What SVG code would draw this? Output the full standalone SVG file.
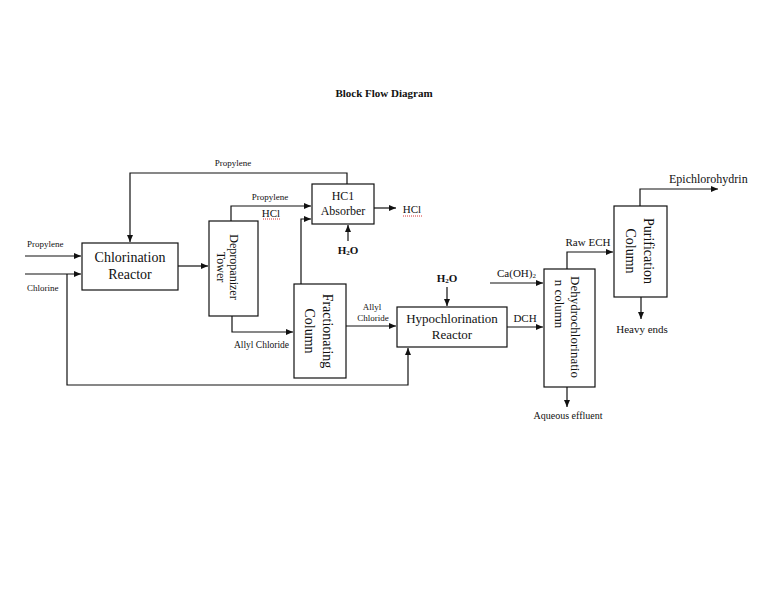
<svg xmlns="http://www.w3.org/2000/svg" width="768" height="595" viewBox="0 0 768 595" font-family="'Liberation Serif', serif">
<style>
text{font-family:"Liberation Serif",serif;fill:#111}
.b{fill:#fff;stroke:#111;stroke-width:1.2}
.c{fill:none;stroke:#111;stroke-width:1.2;marker-end:url(#a)}
.s{font-size:9px}.m{font-size:11px}.n{font-size:14px}
.v{dominant-baseline:central;text-anchor:middle}
</style>
<defs><marker id="a" markerWidth="8" markerHeight="8" refX="7" refY="4" orient="auto" markerUnits="userSpaceOnUse"><path d="M0,1 L7,4 L0,7z" fill="#111"/></marker></defs>
<rect width="768" height="595" fill="#fff"/>
<text x="384" y="97" text-anchor="middle" font-weight="bold" font-size="11">Block Flow Diagram</text>
<g id="connectors">
<path class="c" d="M347,184 V173 H130 V242"/>
<path class="c" d="M25,256 H81"/>
<path class="c" d="M25,274 H81"/>
<path class="c" d="M67,274 V385 H408 V348"/>
<path class="c" d="M178,266 H208"/>
<path class="c" d="M231,221 V206 H311"/>
<path class="c" d="M301,284 V219 H311"/>
<path class="c" d="M348,241 V225"/>
<path class="c" d="M374,208 H396"/>
<path class="c" d="M232,316 V332 H293"/>
<path class="c" d="M346,326 H396"/>
<path class="c" d="M447,287 V306"/>
<path class="c" d="M507,327 H543"/>
<path class="c" d="M490,283 H543"/>
<path class="c" d="M567,387 V407"/>
<path class="c" d="M567,269 V252 H613"/>
<path class="c" d="M641,297 V319"/>
<path class="c" d="M640,206 V189 H718"/>
<line x1="263" y1="219" x2="280" y2="219" stroke="#c00" stroke-width="0.8" stroke-dasharray="1,1"/>
<line x1="403" y1="216" x2="422" y2="216" stroke="#c00" stroke-width="0.8" stroke-dasharray="1,1"/>
</g>
<g id="labels" font-size="11">
<text x="233" y="166" class="s" text-anchor="middle">Propylene</text>
<text x="27" y="247" class="s">Propylene</text>
<text x="27" y="291" class="s">Chlorine</text>
<text x="270" y="200" class="s" text-anchor="middle">Propylene</text>
<text x="271" y="217" text-anchor="middle">HCl</text>
<text x="412" y="213" text-anchor="middle">HCl</text>
<text x="348" y="254" text-anchor="middle" font-weight="bold">H<tspan font-size="7" dy="1">2</tspan><tspan dy="-1">O</tspan></text>
<text x="447" y="282" text-anchor="middle" font-weight="bold">H<tspan font-size="7" dy="1">2</tspan><tspan dy="-1">O</tspan></text>
<text x="234" y="348" font-size="10" textLength="55" lengthAdjust="spacingAndGlyphs">Allyl Chloride</text>
<text x="372" y="310" text-anchor="middle" class="s">Allyl</text>
<text x="373" y="321" text-anchor="middle" class="s">Chloride</text>
<text x="525" y="322" text-anchor="middle">DCH</text>
<text x="497" y="277">Ca(OH)<tspan font-size="7" dy="1">2</tspan></text>
<text x="568" y="419" text-anchor="middle" font-size="10">Aqueous effluent</text>
<text x="588" y="246" text-anchor="middle">Raw ECH</text>
<text x="642" y="333" text-anchor="middle">Heavy ends</text>
<text x="669" y="183" font-size="12">Epichlorohydrin</text>
</g>
<g id="chlorination"><rect class="b" x="82" y="243" width="96" height="47"/><text class="n" x="130" y="262" text-anchor="middle">Chlorination</text><text class="n" x="130" y="279" text-anchor="middle">Reactor</text></g>
<g id="depropanizer"><rect class="b" x="209" y="221" width="49" height="95"/><text class="v" font-size="12" transform="translate(234,267) rotate(90)">Depropanizer</text><text class="v" font-size="12" transform="translate(221,267) rotate(90)">Tower</text></g>
<g id="absorber"><rect class="b" x="312" y="184" width="62" height="40"/><text x="343" y="200" text-anchor="middle" font-size="12">HC1</text><text x="343" y="215" text-anchor="middle" font-size="12">Absorber</text></g>
<g id="fractionating"><rect class="b" x="294" y="284" width="52" height="94"/><text class="n v" transform="translate(327,331) rotate(90)">Fractionating</text><text class="n v" transform="translate(309,331) rotate(90)">Column</text></g>
<g id="hypochlorination"><rect class="b" x="397" y="307" width="110" height="40"/><text x="452" y="323" text-anchor="middle" font-size="13">Hypochlorination</text><text x="452" y="339" text-anchor="middle" font-size="13">Reactor</text></g>
<g id="dehydro"><rect class="b" x="544" y="269" width="51" height="118"/><text class="v" font-size="13" transform="translate(575,327) rotate(90)">Dehydrochlorinatio</text><text class="v" font-size="13" transform="translate(559,304) rotate(90)">n column</text></g>
<g id="purification"><rect class="b" x="614" y="206" width="53" height="91"/><text class="n v" transform="translate(648,251) rotate(90)">Purification</text><text class="n v" transform="translate(630,251) rotate(90)">Column</text></g>
</svg>
